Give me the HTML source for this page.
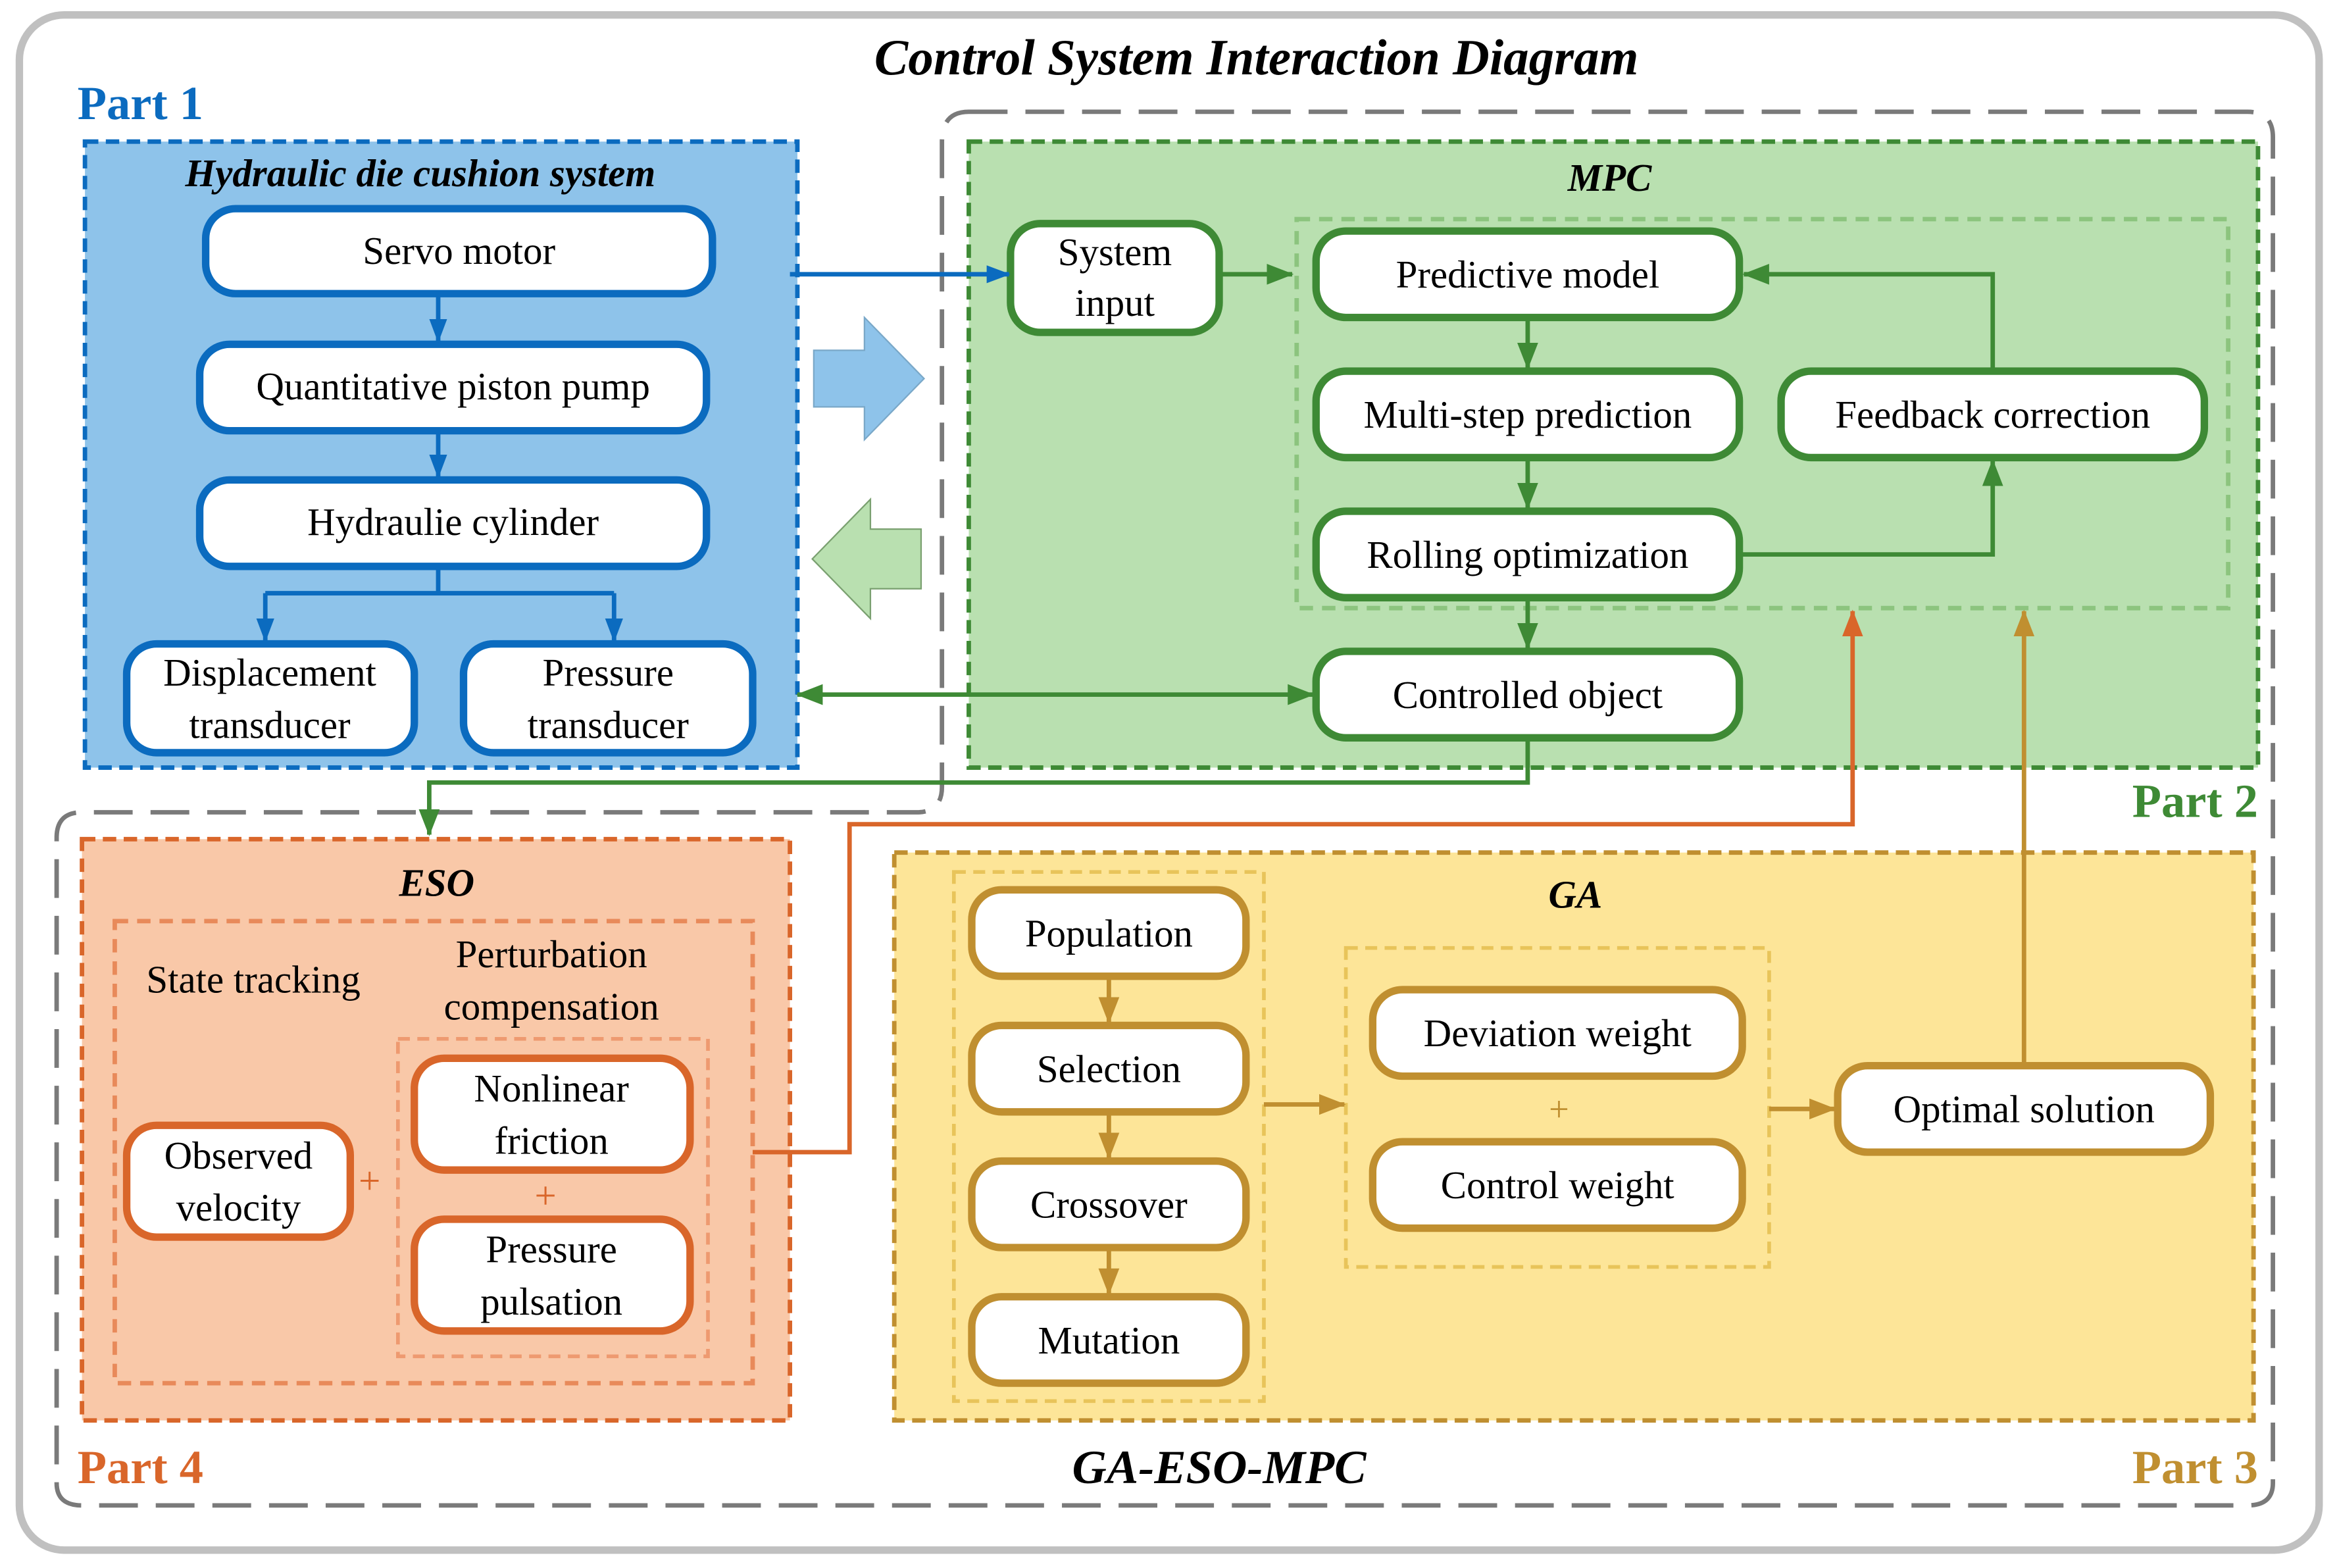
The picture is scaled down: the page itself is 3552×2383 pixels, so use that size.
<!DOCTYPE html>
<html><head><meta charset="utf-8"><style>html,body{margin:0;padding:0;background:#fff}svg{display:block}text{font-family:"Liberation Serif",serif}</style></head>
<body>
<svg width="3552" height="2383" viewBox="0 0 1568 1052" preserveAspectRatio="none" xmlns="http://www.w3.org/2000/svg" style="font-family:'Liberation Serif',serif">
<defs>
<marker id="ab" markerWidth="16" markerHeight="16" refX="15" refY="8" orient="auto" markerUnits="userSpaceOnUse" viewBox="0 0 16 16"><path d="M0,2L16,8L0,14z" fill="#0b6bbf"/></marker>
<marker id="ag" markerWidth="18" markerHeight="18" refX="17" refY="9" orient="auto-start-reverse" markerUnits="userSpaceOnUse" viewBox="0 0 18 18"><path d="M0,2L18,9L0,16z" fill="#3e8a35"/></marker>
<marker id="ao" markerWidth="18" markerHeight="18" refX="17" refY="9" orient="auto" markerUnits="userSpaceOnUse" viewBox="0 0 18 18"><path d="M0,2L18,9L0,16z" fill="#d9662a"/></marker>
<marker id="ay" markerWidth="18" markerHeight="18" refX="17" refY="9" orient="auto" markerUnits="userSpaceOnUse" viewBox="0 0 18 18"><path d="M0,2L18,9L0,16z" fill="#c08f30"/></marker>
</defs>
<rect x="13" y="10" width="1543" height="1030" rx="30" fill="#fff" stroke="#c0c0c0" stroke-width="5"/>
<text x="843" y="50" font-size="34" font-weight="bold" font-style="italic" text-anchor="middle">Control System Interaction Diagram</text>
<path d="M650,75 L1508,75 Q1525,75 1525,92 L1525,995 Q1525,1010 1508,1010 L55,1010 Q38,1010 38,995 L38,562 Q38,545 55,545 L615,545 Q632,545 632,528 L632,95 Q632,75 650,75Z" fill="none" stroke="#7a7a7a" stroke-width="3" stroke-dasharray="26,12"/>
<!-- Part 1 -->
<text x="52" y="80" font-size="32" font-weight="bold" fill="#0b6bbf">Part 1</text>
<rect x="57" y="95" width="478" height="420" fill="#8ec3ea" stroke="#0b6bbf" stroke-width="3" stroke-dasharray="9,5"/>
<text x="282" y="125" font-size="26" font-weight="bold" font-style="italic" text-anchor="middle">Hydraulic die cushion system</text>
<g fill="#fff" stroke="#0b6bbf" stroke-width="5">
<rect x="138" y="140" width="340" height="57" rx="20"/>
<rect x="134" y="231" width="340" height="58" rx="20"/>
<rect x="134" y="322" width="340" height="58" rx="20"/>
<rect x="85" y="432" width="193" height="73" rx="20"/>
<rect x="311" y="432" width="194" height="73" rx="20"/>
</g>
<g font-size="26" text-anchor="middle">
<text x="308" y="177">Servo motor</text>
<text x="304" y="268">Quantitative piston pump</text>
<text x="304" y="359">Hydraulie cylinder</text>
<text x="181" y="460">Displacement</text><text x="181" y="495">transducer</text>
<text x="408" y="460">Pressure</text><text x="408" y="495">transducer</text>
</g>
<path d="M546,235 L580,235 L580,213 L620,254 L580,295 L580,273 L546,273Z" fill="#8ec3ea" stroke="#7aa8c8" stroke-width="1"/>
<path d="M618,355 L584,355 L584,335 L545,375 L584,415 L584,395 L618,395Z" fill="#b9e0b0" stroke="#7aa070" stroke-width="1"/>
<!-- Part 2 -->
<rect x="650" y="95" width="865" height="420" fill="#b9e0b0" stroke="#3e8a35" stroke-width="3" stroke-dasharray="9,5"/>
<text x="1080" y="128" font-size="26" font-weight="bold" font-style="italic" text-anchor="middle">MPC</text>
<rect x="870" y="147" width="625" height="261" fill="none" stroke="#8cc47e" stroke-width="3" stroke-dasharray="9,6"/>
<g fill="#fff" stroke="#3e8a35" stroke-width="5">
<rect x="678" y="150" width="140" height="73" rx="20"/>
<rect x="883" y="155" width="284" height="58" rx="20"/>
<rect x="883" y="249" width="284" height="58" rx="20"/>
<rect x="883" y="343" width="284" height="58" rx="20"/>
<rect x="1195" y="249" width="284" height="58" rx="20"/>
<rect x="883" y="437" width="284" height="58" rx="20"/>
</g>
<g font-size="26" text-anchor="middle">
<text x="748" y="178">System</text><text x="748" y="212">input</text>
<text x="1025" y="193">Predictive model</text>
<text x="1025" y="287">Multi-step prediction</text>
<text x="1025" y="381">Rolling optimization</text>
<text x="1337" y="287">Feedback correction</text>
<text x="1025" y="475">Controlled object</text>
</g>
<text x="1515" y="548" font-size="32" font-weight="bold" fill="#3e8a35" text-anchor="end">Part 2</text>
<!-- Part 4 ESO -->
<rect x="55" y="563" width="475" height="390" fill="#f9c8a8" stroke="#d9662a" stroke-width="3" stroke-dasharray="9,5"/>
<text x="293" y="601" font-size="26" font-weight="bold" font-style="italic" text-anchor="middle">ESO</text>
<rect x="77" y="618" width="428" height="310" fill="none" stroke="#e88a5a" stroke-width="3" stroke-dasharray="9,6"/>
<rect x="267" y="697" width="208" height="213" fill="none" stroke="#ee9a70" stroke-width="2.5" stroke-dasharray="8,5"/>
<g fill="#fff" stroke="#d9662a" stroke-width="5">
<rect x="278" y="710" width="185" height="75" rx="20"/>
<rect x="278" y="818" width="185" height="75" rx="20"/>
<rect x="85" y="755" width="150" height="75" rx="20"/>
</g>
<g font-size="26" text-anchor="middle">
<text x="170" y="666">State tracking</text>
<text x="370" y="649">Perturbation</text><text x="370" y="684">compensation</text>
<text x="370" y="739">Nonlinear</text><text x="370" y="774">friction</text>
<text x="370" y="847">Pressure</text><text x="370" y="882">pulsation</text>
<text x="160" y="784">Observed</text><text x="160" y="819">velocity</text>
</g>
<g font-size="26" fill="#d9662a" text-anchor="middle"><text x="366" y="811">+</text><text x="248" y="801">+</text></g>
<!-- Part 3 GA -->
<rect x="600" y="572" width="912" height="381" fill="#fde598" stroke="#c08f30" stroke-width="3" stroke-dasharray="9,5"/>
<text x="1057" y="609" font-size="26" font-weight="bold" font-style="italic" text-anchor="middle">GA</text>
<rect x="640" y="585" width="208" height="355" fill="none" stroke="#e8c45a" stroke-width="2.5" stroke-dasharray="8,5"/>
<rect x="903" y="636" width="284" height="214" fill="none" stroke="#e8c45a" stroke-width="2.5" stroke-dasharray="8,5"/>
<g fill="#fff" stroke="#c08f30" stroke-width="5">
<rect x="652" y="597" width="184" height="58" rx="20"/>
<rect x="652" y="688" width="184" height="58" rx="20"/>
<rect x="652" y="779" width="184" height="58" rx="20"/>
<rect x="652" y="870" width="184" height="58" rx="20"/>
<rect x="921" y="664" width="248" height="58" rx="20"/>
<rect x="921" y="766" width="248" height="58" rx="20"/>
<rect x="1233" y="715" width="250" height="58" rx="20"/>
</g>
<g font-size="26" text-anchor="middle">
<text x="744" y="635">Population</text>
<text x="744" y="726">Selection</text>
<text x="744" y="817">Crossover</text>
<text x="744" y="908">Mutation</text>
<text x="1045" y="702">Deviation weight</text>
<text x="1045" y="804">Control weight</text>
<text x="1358" y="753">Optimal solution</text>
</g>
<text x="1046" y="752" font-size="24" fill="#c08f30" text-anchor="middle">+</text>
<!-- connectors -->
<g stroke="#0b6bbf" stroke-width="3" fill="none">
<line x1="294" y1="199" x2="294" y2="229" marker-end="url(#ab)"/>
<line x1="294" y1="290" x2="294" y2="320" marker-end="url(#ab)"/>
<path d="M294,381 L294,398 M178,398 L412,398"/>
<line x1="178" y1="398" x2="178" y2="430" marker-end="url(#ab)"/>
<line x1="412" y1="398" x2="412" y2="430" marker-end="url(#ab)"/>
<line x1="530" y1="184" x2="677" y2="184" marker-end="url(#ab)"/>
</g>
<g stroke="#3e8a35" stroke-width="3" fill="none">
<line x1="818" y1="184" x2="867" y2="184" marker-end="url(#ag)"/>
<line x1="1025" y1="214" x2="1025" y2="247" marker-end="url(#ag)"/>
<line x1="1025" y1="308" x2="1025" y2="341" marker-end="url(#ag)"/>
<line x1="1025" y1="402" x2="1025" y2="435" marker-end="url(#ag)"/>
<path d="M1168,372 L1337,372 L1337,309" marker-end="url(#ag)"/>
<path d="M1337,248 L1337,184 L1170,184" marker-end="url(#ag)"/>
<line x1="535" y1="466" x2="881" y2="466" marker-start="url(#ag)" marker-end="url(#ag)"/>
<path d="M1025,496 L1025,525 L288,525 L288,560" marker-end="url(#ag)"/>
</g>
<path d="M505,773 L570,773 L570,553 L1243,553 L1243,410" fill="none" stroke="#d9662a" stroke-width="3" marker-end="url(#ao)"/>
<g stroke="#c08f30" stroke-width="3" fill="none">
<line x1="744" y1="656" x2="744" y2="686" marker-end="url(#ay)"/>
<line x1="744" y1="747" x2="744" y2="777" marker-end="url(#ay)"/>
<line x1="744" y1="838" x2="744" y2="868" marker-end="url(#ay)"/>
<line x1="848" y1="741" x2="902" y2="741" marker-end="url(#ay)"/>
<line x1="1187" y1="744" x2="1231" y2="744" marker-end="url(#ay)"/>
<line x1="1358" y1="713" x2="1358" y2="410" marker-end="url(#ay)"/>
</g>
<text x="52" y="995" font-size="32" font-weight="bold" fill="#d9662a">Part 4</text>
<text x="1515" y="995" font-size="32" font-weight="bold" fill="#c08f30" text-anchor="end">Part 3</text>
<text x="818" y="995" font-size="32" font-weight="bold" font-style="italic" text-anchor="middle">GA-ESO-MPC</text>
</svg>
</body></html>
